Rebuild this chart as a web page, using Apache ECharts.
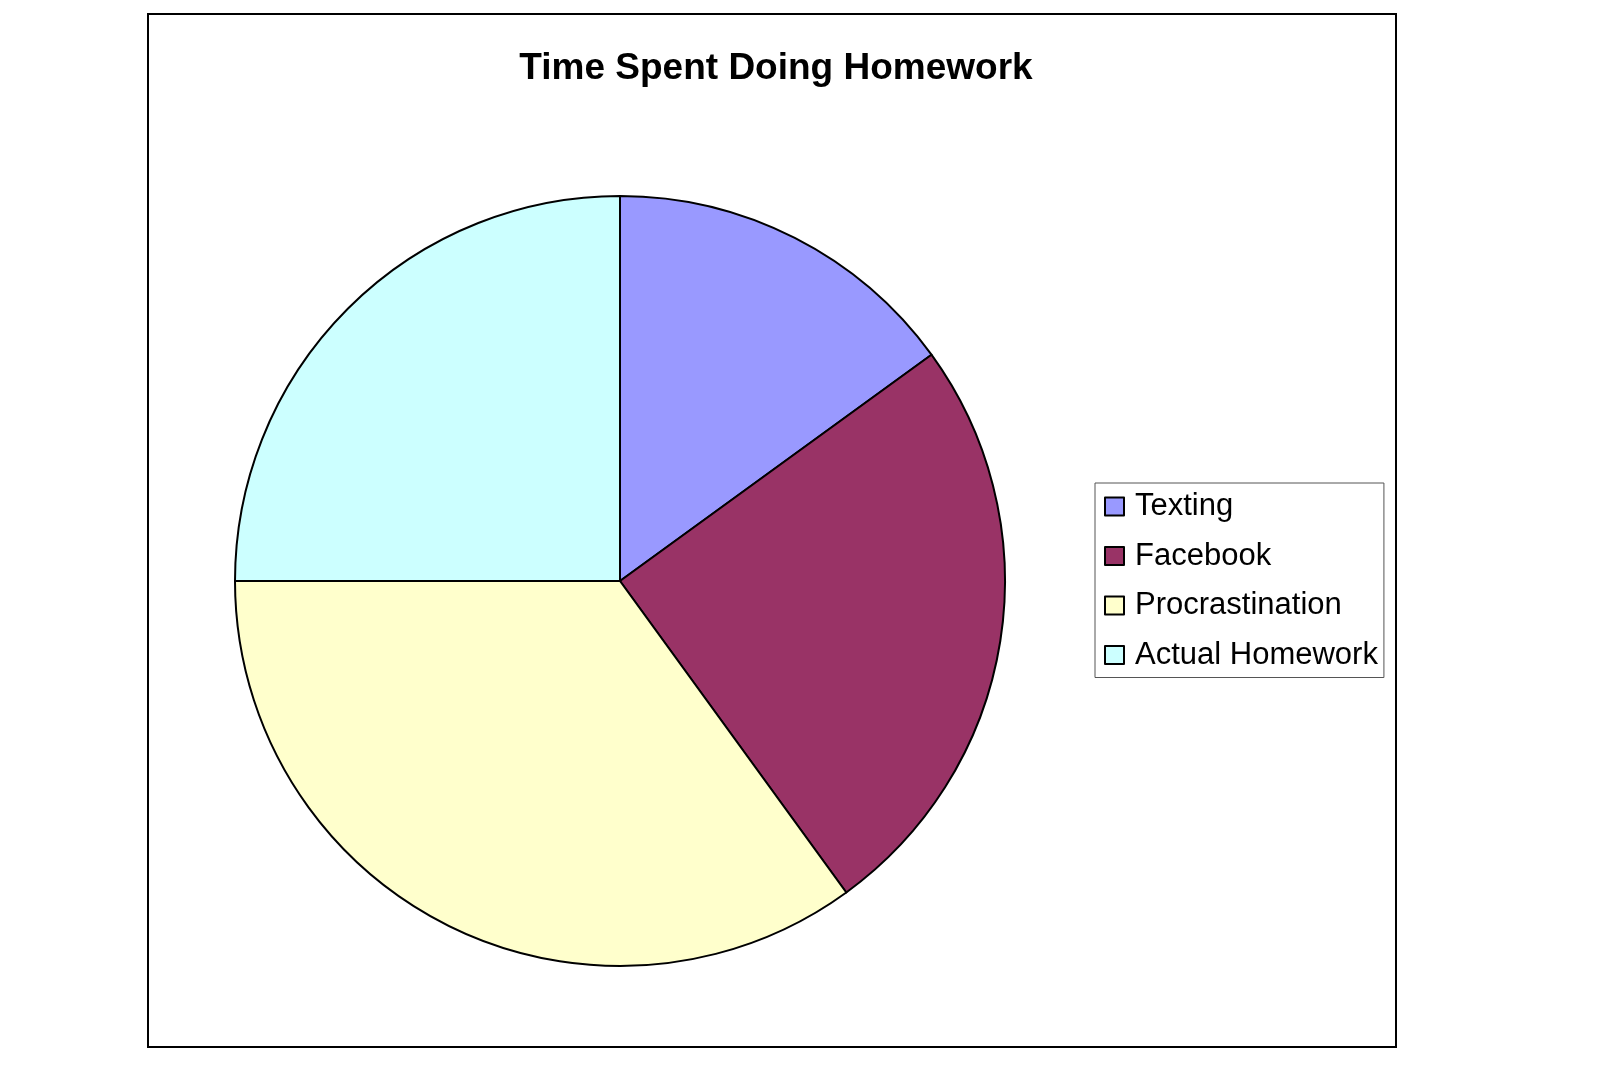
<!DOCTYPE html>
<html>
<head>
<meta charset="utf-8">
<script src="https://cdn.jsdelivr.net/npm/echarts@6/dist/echarts.min.js"></script>
<style>html,body{margin:0;padding:0;background:#fff;}#c{width:1600px;height:1067px;}</style>
</head>
<body>
<div id="c"></div>
<script>
const categories = ['Texting', 'Facebook', 'Procrastination', 'Actual Homework'];
const values = [15, 25, 35, 25];
const colors = ['#9999FF', '#993366', '#FFFFCC', '#CCFFFF'];

const chart = echarts.init(document.getElementById('c'));
chart.setOption({
  backgroundColor: '#ffffff',
  animation: false,
  title: {
    text: 'Time Spent Doing Homework',
    left: 771, top: 45, textAlign: 'center',
    textStyle: { fontFamily: 'Liberation Sans, Arial', fontWeight: 'bold', fontSize: 37, color: '#000' }
  },
  graphic: [{
    type: 'rect', shape: { x: 148, y: 14, width: 1248, height: 1033 },
    style: { fill: 'none', stroke: '#000', lineWidth: 2 }, silent: true, z: -1
  }],
  legend: {
    orient: 'vertical',
    left: 1095, top: 483,
    padding: [8, 6, 7, 9],
    borderColor: '#555', borderWidth: 1,
    itemWidth: 19, itemHeight: 18, itemGap: 18.5,
    icon: 'rect',
    itemStyle: { borderColor: '#000', borderWidth: 2 },
    textStyle: { fontFamily: 'Liberation Sans, Arial', fontSize: 31, color: '#000', lineHeight: 30, padding: [0, 0, 0, 6] },
    data: categories
  },
  series: [{
    type: 'pie',
    center: [620, 581],
    radius: 385,
    startAngle: 90,
    clockwise: true,
    label: { show: false },
    labelLine: { show: false },
    emphasis: { disabled: true },
    itemStyle: { borderColor: '#000', borderWidth: 2 },
    data: categories.map((n, i) => ({ name: n, value: values[i], itemStyle: { color: colors[i] } }))
  }]
});
</script>
</body>
</html>
